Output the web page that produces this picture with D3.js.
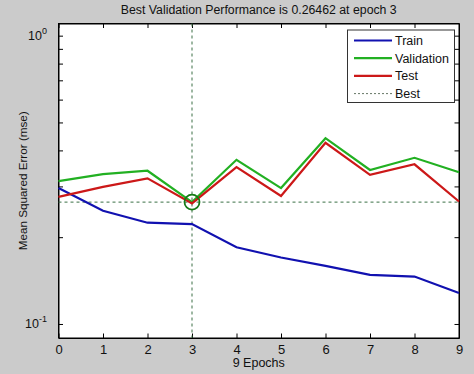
<!DOCTYPE html>
<html>
<head>
<meta charset="utf-8">
<script src="https://cdn.jsdelivr.net/npm/d3@7"></script>
<style>
  body { margin: 0; background: #cbcbcb; }
  svg { display: block; font-family: "Liberation Sans", Arial, sans-serif; }
</style>
</head>
<body>
<svg id="chart" width="474" height="374"></svg>
<script>
// data
const epochs = [0, 1, 2, 3, 4, 5, 6, 7, 8, 9];
const train = [0.296, 0.247, 0.2245, 0.222, 0.1845, 0.170, 0.159, 0.148, 0.146, 0.128];
const validation = [0.313, 0.331, 0.340, 0.26462, 0.371, 0.296, 0.441, 0.342, 0.377, 0.336];
const test = [0.276, 0.299, 0.320, 0.262, 0.350, 0.278, 0.425, 0.329, 0.358, 0.266];
const bestEpoch = 3;
const bestValue = 0.26462;
const xTicks = [0, 1, 2, 3, 4, 5, 6, 7, 8, 9];
const yMajor = [0.1, 1];
const yMinor = [0.2, 0.3, 0.4, 0.5, 0.6, 0.7, 0.8, 0.9];
const legendNames = ["Train", "Validation", "Test", "Best"];

const svg = d3.select("#chart");
const pLeft = 58.5, pRight = 459, pTop = 23.5, pBottom = 338;

const x = d3.scaleLinear().domain([0, 9]).range([pLeft, pRight]);
const y = d3.scaleLog().domain([0.0894, 1.102]).range([pBottom, pTop]);

// plot background
svg.append("rect")
  .attr("x", pLeft).attr("y", pTop)
  .attr("width", pRight - pLeft).attr("height", pBottom - pTop)
  .attr("fill", "#fff");

// title
svg.append("text")
  .attr("x", (pLeft + pRight) / 2).attr("y", 14)
  .attr("text-anchor", "middle")
  .attr("font-size", 12.3)
  .attr("fill", "#111")
  .text("Best Validation Performance is " + bestValue + " at epoch " + bestEpoch);

// axes, ticks point inward on all four sides
const tk = 4.5;
svg.append("g").attr("transform", "translate(0," + pBottom + ")")
  .call(d3.axisBottom(x).tickValues(xTicks).tickSizeInner(-tk).tickSizeOuter(0).tickPadding(7))
  .call(g => g.selectAll("text").attr("font-size", 13).attr("fill", "#111"));
svg.append("g").attr("transform", "translate(0," + pTop + ")")
  .call(d3.axisTop(x).tickValues(xTicks).tickSizeInner(-tk).tickSizeOuter(0).tickFormat(""));

const yAll = yMajor.concat(yMinor);
svg.append("g").attr("transform", "translate(" + pLeft + ",0)")
  .call(d3.axisLeft(y).tickValues(yAll).tickSizeInner(-tk).tickSizeOuter(0).tickFormat(""));
svg.append("g").attr("transform", "translate(" + pRight + ",0)")
  .call(d3.axisRight(y).tickValues(yAll).tickSizeInner(-tk).tickSizeOuter(0).tickFormat(""));

svg.selectAll(".domain").attr("stroke", "#000");
svg.selectAll(".tick line").attr("stroke", "#000");

// y major labels with superscript exponents
const yl = svg.append("g");
yMajor.forEach(v => {
  const t = yl.append("text")
    .attr("x", 47).attr("y", y(v) + 4.5)
    .attr("text-anchor", "end")
    .attr("font-size", 12.5)
    .attr("fill", "#111");
  t.append("tspan").text("10");
  t.append("tspan").attr("dy", -6).attr("font-size", 9).text(Math.round(Math.log10(v)));
});

// frame
svg.append("rect")
  .attr("x", pLeft).attr("y", pTop)
  .attr("width", pRight - pLeft).attr("height", pBottom - pTop)
  .attr("fill", "none").attr("stroke", "#000");

// axis labels
svg.append("text")
  .attr("x", (pLeft + pRight) / 2).attr("y", 367)
  .attr("text-anchor", "middle").attr("font-size", 12.5).attr("fill", "#111")
  .text(epochs.length - 1 + " Epochs");
svg.append("text")
  .attr("transform", "translate(27," + (pTop + pBottom) / 2 + ") rotate(-90)")
  .attr("text-anchor", "middle").attr("font-size", 11.7).attr("fill", "#111")
  .text("Mean Squared Error  (mse)");

// best markers
const bestColor = "#3a6f45";
svg.append("line")
  .attr("x1", x(bestEpoch)).attr("x2", x(bestEpoch))
  .attr("y1", pTop).attr("y2", pBottom)
  .attr("stroke", bestColor).attr("stroke-dasharray", "3,3");
svg.append("line")
  .attr("x1", pLeft).attr("x2", pRight)
  .attr("y1", y(bestValue)).attr("y2", y(bestValue))
  .attr("stroke", bestColor).attr("stroke-dasharray", "3,3");

// series lines
const line = d3.line().x((d, i) => x(epochs[i])).y(d => y(d));
const series = [
  { name: "Train", values: train, color: "#1111b0" },
  { name: "Validation", values: validation, color: "#22b022" },
  { name: "Test", values: test, color: "#cc1818" }
];
series.forEach(s => {
  svg.append("path")
    .datum(s.values)
    .attr("d", line)
    .attr("fill", "none")
    .attr("stroke", s.color)
    .attr("stroke-width", 2.2);
});

svg.append("circle")
  .attr("cx", x(bestEpoch)).attr("cy", y(bestValue)).attr("r", 7.5)
  .attr("fill", "none").attr("stroke", "#167a16").attr("stroke-width", 1.8);

// legend
const lg = svg.append("g");
lg.append("rect")
  .attr("x", 347.5).attr("y", 30)
  .attr("width", 107).attr("height", 72.5)
  .attr("fill", "#fff").attr("stroke", "#333");
const legendColors = series.map(s => s.color).concat(["#667766"]);
legendNames.forEach((n, i) => {
  const ly = 40.5 + i * 17.7;
  lg.append("line")
    .attr("x1", 354).attr("x2", 392)
    .attr("y1", ly).attr("y2", ly)
    .attr("stroke", legendColors[i])
    .attr("stroke-width", i < 3 ? 2.2 : 1)
    .attr("stroke-dasharray", i < 3 ? null : "2,2");
  lg.append("text")
    .attr("x", 395).attr("y", ly + 4.5)
    .attr("font-size", 12.5).attr("fill", "#111")
    .text(n);
});
</script>
</body>
</html>
